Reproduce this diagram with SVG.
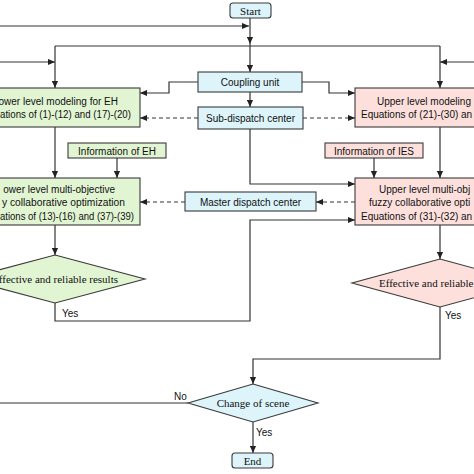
<svg xmlns="http://www.w3.org/2000/svg" width="474" height="474" viewBox="0 0 474 474">
<style>
.box{stroke:#3a3a3a;stroke-width:1.1}
.g{fill:#e2f5d3}.p{fill:#fde0dc}.c{fill:#dcf4fa}
.ln{fill:none;stroke:#333;stroke-width:1.2}
.ds{fill:none;stroke:#333;stroke-width:1.2;stroke-dasharray:4 3}
.s{font-family:"Liberation Sans",Arial,sans-serif;font-size:10px;fill:#111}
.t{font-family:"Liberation Serif","Times New Roman",serif;font-size:11px;fill:#111}
</style>
<defs>
<marker id="ah" viewBox="0 0 8 8" refX="8" refY="4" markerWidth="7" markerHeight="7" markerUnits="userSpaceOnUse" orient="auto">
<path d="M0,0.5 L8,4 L0,7.5 Z" fill="#222"/>
</marker>
</defs>
<rect width="474" height="474" fill="#fff"/>

<g id="connectors">
<path class="ln" d="M250,18 V44" marker-end="url(#ah)"/>
<path class="ln" d="M250,44 V72" marker-end="url(#ah)"/>
<path class="ln" d="M0,26 H249" marker-end="url(#ah)"/>
<path class="ln" d="M55,46 H440"/>
<path class="ln" d="M55,46 V88" marker-end="url(#ah)"/>
<path class="ln" d="M440,46 V88" marker-end="url(#ah)"/>
<path class="ln" d="M0,62 H55" marker-end="url(#ah)"/>
<path class="ln" d="M474,62 H440" marker-end="url(#ah)"/>
<path class="ln" d="M198,82 H169 V93 H140" marker-end="url(#ah)"/>
<path class="ln" d="M302,82 H329 V93 H355" marker-end="url(#ah)"/>
<path class="ln" d="M250,92 V107" marker-end="url(#ah)"/>
<path class="ds" d="M198,118 H140" marker-end="url(#ah)"/>
<path class="ds" d="M303,118 H355" marker-end="url(#ah)"/>
<path class="ln" d="M55,127 V178" marker-end="url(#ah)"/>
<path class="ln" d="M117,158 V178" marker-end="url(#ah)"/>
<path class="ln" d="M374,158 V178" marker-end="url(#ah)"/>
<path class="ln" d="M440,127 V178" marker-end="url(#ah)"/>
<path class="ln" d="M250,129 V184 H355" marker-end="url(#ah)"/>
<path class="ds" d="M355,202 H316" marker-end="url(#ah)"/>
<path class="ds" d="M185,202 H140" marker-end="url(#ah)"/>
<path class="ln" d="M55,225 V255" marker-end="url(#ah)"/>
<path class="ln" d="M55,303 V321 H250 V220 H355" marker-end="url(#ah)"/>
<path class="ln" d="M440,225 V259" marker-end="url(#ah)"/>
<path class="ln" d="M440,307 V359 H253 V384" marker-end="url(#ah)"/>
<path class="ln" d="M188,403 H0"/>
<path class="ln" d="M253,422 V453" marker-end="url(#ah)"/>
<text class="s" x="62" y="316.5">Yes</text>
<text class="s" x="445" y="318.5">Yes</text>
<text class="s" x="256" y="435.5">Yes</text>
<text class="s" x="174" y="399.5">No</text>
</g>

<g id="start">
<rect class="box c" x="230" y="3" width="41" height="15" rx="3"/>
<text class="t" x="250.5" y="14.5" text-anchor="middle">Start</text>
</g>

<g id="coupling-unit">
<rect class="box c" x="198" y="72" width="104" height="20"/>
<text class="s" x="250" y="85.5" text-anchor="middle">Coupling unit</text>
</g>

<g id="sub-dispatch-center">
<rect class="box c" x="198" y="107" width="105" height="22"/>
<text class="s" x="250.5" y="121.5" text-anchor="middle">Sub-dispatch center</text>
</g>

<g id="lower-modeling">
<rect class="box g" x="-40" y="88" width="180" height="39"/>
<text class="s" x="118" y="104.5" text-anchor="end">ower level modeling for EH</text>
<text class="s" x="131" y="117.5" text-anchor="end" textLength="131" lengthAdjust="spacingAndGlyphs">ations of (1)-(12) and (17)-(20)</text>
</g>

<g id="upper-modeling">
<rect class="box p" x="355" y="88" width="170" height="39"/>
<text class="s" x="377" y="104.5">Upper level modeling</text>
<text class="s" x="361" y="117.5">Equations of (21)-(30) an</text>
</g>

<g id="info-eh">
<rect class="box g" x="68" y="143" width="98" height="15"/>
<text class="s" x="117" y="154.5" text-anchor="middle">Information of EH</text>
</g>

<g id="info-ies">
<rect class="box p" x="325" y="143" width="98" height="15"/>
<text class="s" x="374" y="154.5" text-anchor="middle">Information of IES</text>
</g>

<g id="lower-multi">
<rect class="box g" x="-40" y="178" width="180" height="47"/>
<text class="s" x="115" y="192.5" text-anchor="end">ower level multi-objective</text>
<text class="s" x="125" y="206" text-anchor="end" textLength="123" lengthAdjust="spacingAndGlyphs">y collaborative optimization</text>
<text class="s" x="134" y="219.5" text-anchor="end" textLength="134" lengthAdjust="spacingAndGlyphs">ations of (13)-(16) and (37)-(39)</text>
</g>

<g id="master-dispatch-center">
<rect class="box c" x="185" y="192" width="131" height="19"/>
<text class="s" x="250.5" y="205.5" text-anchor="middle">Master dispatch center</text>
</g>

<g id="upper-multi">
<rect class="box p" x="355" y="178" width="170" height="47"/>
<text class="s" x="379" y="192.5">Upper level multi-obj</text>
<text class="s" x="369" y="206">fuzzy collaborative opti</text>
<text class="s" x="361" y="219.5">Equations of (31)-(32) an</text>
</g>

<g id="lower-decision">
<polygon class="box g" points="55,255 145,279 55,303 -35,279"/>
<text class="t" x="118" y="283" text-anchor="end">ffective and reliable results</text>
</g>

<g id="upper-decision">
<polygon class="box p" points="440,259 528,283 440,307 352,283"/>
<text class="t" x="379" y="287">Effective and reliable</text>
</g>

<g id="change-of-scene">
<polygon class="box c" points="253,384 318,403 253,422 188,403"/>
<text class="t" x="253" y="406.5" text-anchor="middle">Change of scene</text>
</g>

<g id="end">
<rect class="box c" x="232" y="453" width="41" height="15" rx="3"/>
<text class="t" x="252.5" y="464.5" text-anchor="middle">End</text>
</g>
</svg>
